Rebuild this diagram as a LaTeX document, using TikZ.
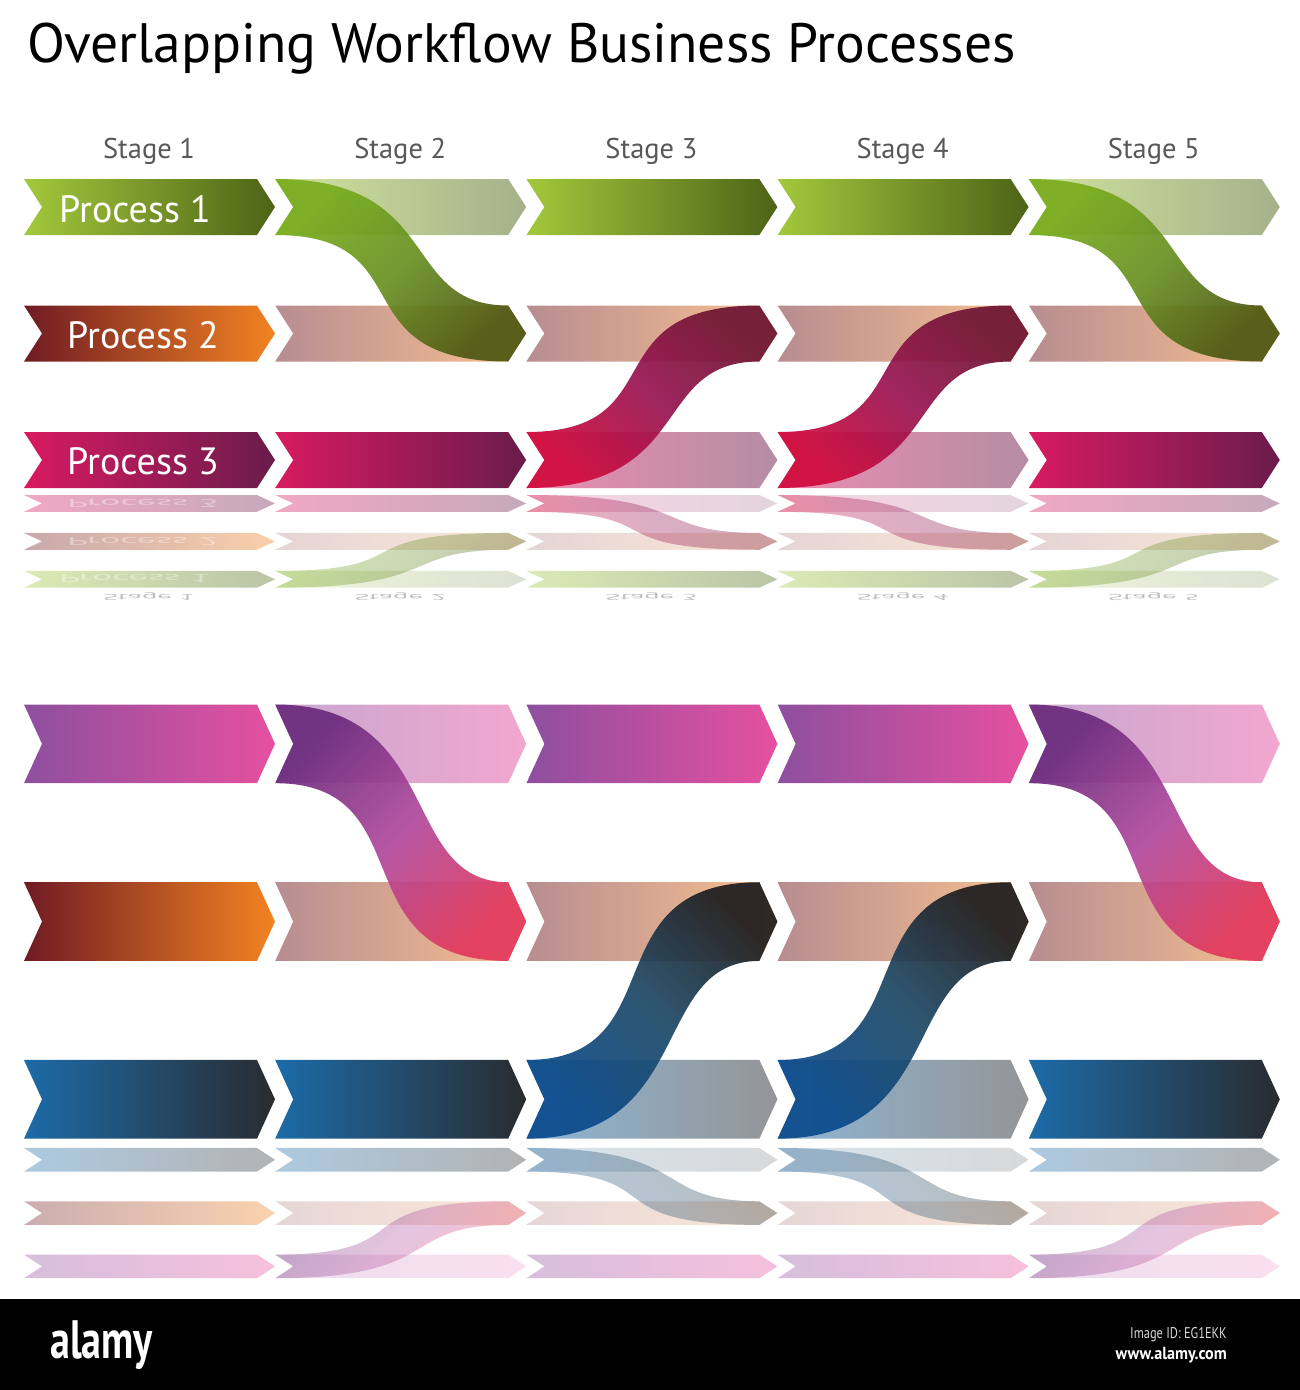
\documentclass[tikz,border=0pt]{standalone}
\usepackage{graphicx}
\usepackage{fontspec}
\setmainfont{PT Sans}
\usetikzlibrary{calc}

\definecolor{grnA}{HTML}{A3C83C}
\definecolor{grnB}{HTML}{4D6317}
\definecolor{rustA}{HTML}{701B24}
\definecolor{rustB}{HTML}{F28322}
\definecolor{roseA}{HTML}{D81A62}
\definecolor{roseB}{HTML}{6A1C4A}
\definecolor{violA}{HTML}{8E4F9F}
\definecolor{violB}{HTML}{E6509F}
\definecolor{blueA}{HTML}{1C6BA8}
\definecolor{blueB}{HTML}{2A2B2F}
\definecolor{xgA}{HTML}{78AC1C}
\definecolor{xgB}{HTML}{688F22}
\definecolor{xgC}{HTML}{4C5612}
\definecolor{xrA}{HTML}{D00A3C}
\definecolor{xrB}{HTML}{981250}
\definecolor{xrC}{HTML}{6C1432}
\definecolor{xvA}{HTML}{6A2A7C}
\definecolor{xvB}{HTML}{B0489C}
\definecolor{xvC}{HTML}{E2385C}
\definecolor{xbA}{HTML}{0A4A8C}
\definecolor{xbB}{HTML}{1C4866}
\definecolor{xbC}{HTML}{1C1C1E}
\definecolor{stagegray}{HTML}{58585A}

\newcommand{\fullop}{1}
\newcommand{\fadeop}{0.5}
\newcommand{\ribop}{0.92}

\tikzstyle{fullarr} = [opacity=\fullop]
\tikzstyle{fadearr} = [opacity=\fadeop]
\tikzstyle{ribbon} = [opacity=\ribop]
\tikzstyle{titlelbl} = [anchor=base west, inner sep=0pt, font=\fontsize{55.5}{60}\selectfont]
\tikzstyle{stagelbl} = [anchor=base, inner sep=0pt, text=stagegray, text opacity=\fullop, font=\fontsize{28.5}{32}\selectfont]
\tikzstyle{proclbl} = [anchor=base west, inner sep=0pt, text=white, text opacity=\fullop, font=\fontsize{38}{42}\selectfont]

% chevron, #1 = left x, #2 = top y
\newcommand{\chev}[2]{(#1,#2) -- ++(233,0) -- ++(18,28) -- ++(-18,28)
  -- ++(-233,0) -- ++(18,-28) -- cycle}
% S-shaped chevron one row down / one row up
\newcommand{\ribdown}[2]{(#1,#2) .. controls +(170,0) and +(-110,0) .. ++(233,126.5)
  -- ++(18,28) -- ++(-18,28) .. controls +(-170,0) and +(150,0) .. ++(-233,-126.5)
  -- ++(18,-28) -- cycle}
\newcommand{\ribup}[2]{(#1,#2) .. controls +(150,0) and +(-170,0) .. ++(233,-126.5)
  -- ++(18,28) -- ++(-18,28) .. controls +(-110,0) and +(170,0) .. ++(-233,126.5)
  -- ++(18,-28) -- cycle}

\newcommand{\topgroup}[1]{%
  % process 1
  \foreach \k in {0,2,3}
    \shade[fullarr, left color=grnA, right color=grnB] \chev{24+251.2*\k}{0};
  \foreach \k in {1,4}
    \shade[fadearr, left color=grnA, right color=grnB] \chev{24+251.2*\k}{0};
  % process 2
  \shade[fullarr, left color=rustA, right color=rustB] \chev{24}{126.5};
  \foreach \k in {1,...,4}
    \shade[fadearr, left color=rustA, right color=rustB] \chev{24+251.2*\k}{126.5};
  % process 3
  \foreach \k in {0,1,4}
    \shade[fullarr, left color=roseA, right color=roseB] \chev{24+251.2*\k}{253};
  \foreach \k in {2,3}
    \shade[fadearr, left color=roseA, right color=roseB] \chev{24+251.2*\k}{253};
  % overlaps
  \foreach \k in {1,4}
    \shade[ribbon, top color=xgA, bottom color=xgC, middle color=xgB, shading angle=45]
      \ribdown{24+251.2*\k}{0};
  \foreach \k in {2,3}
    \shade[ribbon, top color=xrC, bottom color=xrA, middle color=xrB, shading angle=-45]
      \ribup{24+251.2*\k}{253};
  \foreach \k in {1,...,5}
    \node[stagelbl] (stage\k#1) at ({149+251.2*(\k-1)},-21) {Stage \k};
  \node[proclbl] (proc1#1) at (59,43) {Process 1};
  \node[proclbl] (proc2#1) at (67,169) {Process 2};
  \node[proclbl] (proc3#1) at (67,295) {Process 3};
}

\newcommand{\lowgroup}{%
  % row 1
  \foreach \k in {0,2,3}
    \shade[fullarr, left color=violA, right color=violB] \chev{24+251.2*\k}{0};
  \foreach \k in {1,4}
    \shade[fadearr, left color=violA, right color=violB] \chev{24+251.2*\k}{0};
  % row 2
  \shade[fullarr, left color=rustA, right color=rustB] \chev{24}{126.5};
  \foreach \k in {1,...,4}
    \shade[fadearr, left color=rustA, right color=rustB] \chev{24+251.2*\k}{126.5};
  % row 3
  \foreach \k in {0,1,4}
    \shade[fullarr, left color=blueA, right color=blueB] \chev{24+251.2*\k}{253};
  \foreach \k in {2,3}
    \shade[fadearr, left color=blueA, right color=blueB] \chev{24+251.2*\k}{253};
  % overlaps
  \foreach \k in {1,4}
    \shade[ribbon, top color=xvA, bottom color=xvC, middle color=xvB, shading angle=45]
      \ribdown{24+251.2*\k}{0};
  \foreach \k in {2,3}
    \shade[ribbon, top color=xbC, bottom color=xbA, middle color=xbB, shading angle=-45]
      \ribup{24+251.2*\k}{253};
}

\begin{document}
\begin{tikzpicture}[x=1pt, y=-1pt]
  \useasboundingbox (0,0) rectangle (1300,1390);
  \node[titlelbl] (title) at (27,62) {Overlapping Workflow Business Processes};

  % upper chart
  \begin{scope}[shift={(0,179)}]
    \topgroup{}
  \end{scope}
  \begin{scope}[shift={(0,587.7)}, yscale=-0.3, transform shape]
    \renewcommand{\fullop}{0.38}\renewcommand{\fadeop}{0.19}\renewcommand{\ribop}{0.34}
    \topgroup{r}
  \end{scope}

  % lower chart
  \begin{scope}[shift={(0,704.5)}, yscale=1.405]
    \lowgroup
  \end{scope}
  \begin{scope}[shift={(0,1278.2)}, yscale=-0.4215]
    \renewcommand{\fullop}{0.36}\renewcommand{\fadeop}{0.18}\renewcommand{\ribop}{0.32}
    \lowgroup
  \end{scope}

  % footer
  \fill[black] (0,1299) rectangle (1300,1390);
  \node[anchor=base west, inner sep=0pt, text=white, font=\bfseries\fontsize{54}{56}\selectfont]
    (logo) at (50,1358) {\scalebox{0.74}[1]{alamy}};
  \node[anchor=base east, inner sep=0pt, text=white!85!black, font=\fontsize{15.5}{17}\selectfont]
    (imgid) at (1227,1338) {\scalebox{0.8}[1]{Image ID: EG1EKK}};
  \node[anchor=base east, inner sep=0pt, text=white, font=\bfseries\fontsize{17.5}{19}\selectfont]
    (site) at (1227,1359) {\scalebox{0.92}[1]{www.alamy.com}};
\end{tikzpicture}
\end{document}
